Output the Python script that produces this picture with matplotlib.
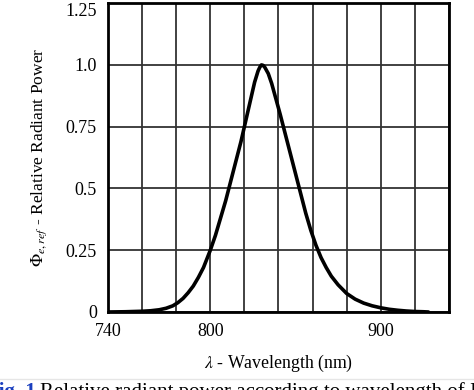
import matplotlib.pyplot as plt

plt.rcParams.update({
    'font.family': ['Liberation Serif', 'DejaVu Serif'],
    'mathtext.fontset': 'stix',
})

# wavelength (nm) and relative radiant power
wavelength = [740, 750, 760, 765, 770, 774, 778, 781, 784, 787, 790, 793, 796,
              800, 803, 806, 809, 812, 815, 818, 821, 824, 826, 828, 829, 830,
              831, 832, 834, 836, 838, 841, 844, 847, 850, 853, 856, 859, 862,
              865, 868, 871, 875, 880, 885, 890, 895, 900, 905, 910, 915, 920,
              925, 928]
power = [0.0, 0.001, 0.003, 0.005, 0.009, 0.015, 0.025, 0.038, 0.055, 0.078,
         0.105, 0.14, 0.18, 0.25, 0.31, 0.38, 0.45, 0.53, 0.61, 0.69, 0.78,
         0.87, 0.93, 0.975, 0.99, 1.0, 0.998, 0.99, 0.965, 0.925, 0.875,
         0.8, 0.72, 0.64, 0.56, 0.48, 0.4, 0.33, 0.27, 0.22, 0.18, 0.145,
         0.11, 0.075, 0.052, 0.036, 0.025, 0.017, 0.011, 0.007, 0.004, 0.002,
         0.001, 0.0]

x_ticks = [740, 800, 900]
y_ticks = [0, 0.25, 0.5, 0.75, 1.0, 1.25]
y_ticklabels = ['0', '0.25', '0.5', '0.75', '1.0', '1.25']

fig = plt.figure(figsize=(4.74, 3.9), dpi=100)
ax = fig.add_axes([0.228, 0.2, 0.719, 0.792])

ax.plot(wavelength, power, color='black', linewidth=2.6,
        solid_joinstyle='round', solid_capstyle='round')

ax.set_xlim(740, 940)
ax.set_ylim(0, 1.25)
ax.set_xticks(range(740, 941, 20), minor=True)
ax.set_xticks(x_ticks)
ax.set_yticks(y_ticks)
ax.set_yticklabels(y_ticklabels)
ax.get_yticklabels()[-1].set_verticalalignment('top')
ax.grid(True, which='both', color='#333333', linewidth=1.3)
ax.set_axisbelow(True)
ax.tick_params(which='both', length=0, labelsize=13, pad=8)
for s in ax.spines.values():
    s.set_linewidth(2)

ax.set_xlabel(r'$\lambda$ - Wavelength (nm)', fontsize=12.8, labelpad=9)
ax.set_ylabel(r'$\Phi_{e,ref}$ - Relative Radiant Power', fontsize=12.5, labelpad=12)

# separator and clipped caption at the bottom
fig.add_artist(plt.Line2D([0, 1], [1 - 379 / 390] * 2, color='#e6e6e6', linewidth=1))
fig.text(-0.03, 1 - 382 / 390, 'Fig. 1.', color='#1a3fbf', fontsize=15,
         va='top', fontweight='bold')
fig.text(0.085, 1 - 382 / 390, 'Relative radiant power according to wavelength of IR LED',
         color='black', fontsize=15, va='top')

plt.savefig('out.png', dpi=100)
